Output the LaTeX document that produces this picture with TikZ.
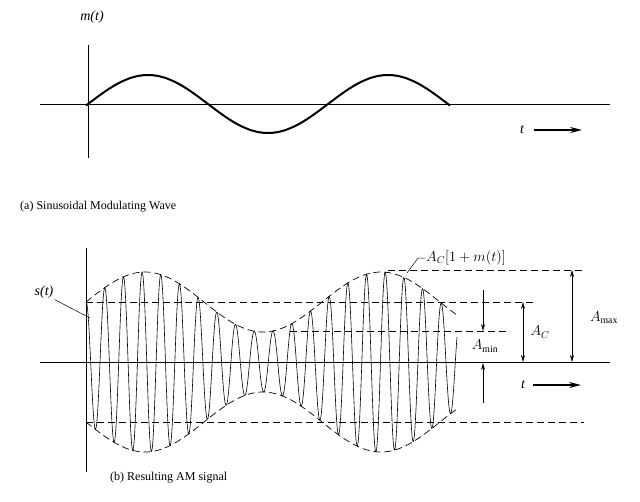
\documentclass[tikz,border=0pt]{standalone}
\usepackage{fontspec}
\setmainfont{Liberation Serif}
\usetikzlibrary{arrows.meta}
\begin{document}
\begin{tikzpicture}[x=1pt,y=-1pt,
  ax/.style={line width=0.8pt},
  dsh/.style={dashed,dash pattern=on 7pt off 4pt,line width=0.7pt},
  arr/.style={-{Stealth[length=7pt,width=4pt]},line width=0.5pt},
  darr/.style={{Stealth[length=7pt,width=4pt]}-{Stealth[length=7pt,width=4pt]},line width=0.5pt},
  bigarr/.style={-{Stealth[length=12pt,width=6pt]},line width=1.2pt},
  lbl/.style={font=\fontsize{14}{16}\selectfont\itshape,inner sep=1pt},
  captext/.style={font=\fontsize{12}{14}\selectfont,anchor=west,inner sep=0pt}]
\useasboundingbox (0,0) rectangle (640,501);
% top plot
\draw[ax] (40,104) -- (610,104);
\draw[ax] (88,45) -- (88,158);
\node[lbl] (mt) at (92,17) {m(t)};
\draw[line width=2pt,domain=86:450,samples=150,smooth] plot (\x,{104-29*sin(1.5*(\x-88))});
\node[lbl] (t1) at (522,130) {t};
\coordinate (t1a) at (534,130); \coordinate (t1b) at (582,130);
\draw[bigarr] (t1a) -- (t1b);
\node[captext] (capa) at (20,207) {(a) Sinusoidal Modulating Wave};
% bottom plot
\draw[ax] (40,362) -- (610,362);
\draw[ax] (86,248) -- (86,472);
\draw[dsh] (86,302) -- (533,302);
\draw[dsh] (290,331) -- (510,331);
\draw[dsh] (388,270) -- (584,270);
\draw[dsh] (86,422) -- (584,422);
% envelope
\draw[dsh,domain=86:457,samples=120,smooth] plot (\x,{302-30*sin(1.5254*(\x-86))});
\draw[dsh,domain=86:457,samples=120,smooth] plot (\x,{422+30*sin(1.5254*(\x-86))});
% carrier
\draw[line width=0.6pt,domain=86:457,samples=900] plot (\x,{362-(60+30*sin(1.5254*(\x-86)))*cos(19.2513*(\x-86))});
% arrows
\coordinate (m1) at (483,290); \coordinate (m2) at (483,331);
\coordinate (m3) at (483,403); \coordinate (m4) at (483,363);
\draw[arr] (m1) -- (m2);
\draw[arr] (m3) -- (m4);
\coordinate (c1) at (523,302); \coordinate (c2) at (523,362);
\draw[darr] (c1) -- (c2);
\coordinate (x1) at (572,270); \coordinate (x2) at (572,362);
\draw[darr] (x1) -- (x2);
\node[font=\fontsize{14}{16}\selectfont,inner sep=1pt] (amin) at (485,346) {$A_{\mathrm{min}}$};
\node[font=\fontsize{14}{16}\selectfont,inner sep=1pt] (ac) at (540,332) {$A_C$};
\node[font=\fontsize{14}{16}\selectfont,inner sep=1pt] (amax) at (604,318) {$A_{\mathrm{max}}$};
\node[font=\fontsize{14}{16}\selectfont,inner sep=1pt,anchor=west] (env) at (425,258) {$A_C[1+m(t)]$};
\coordinate (envp) at (407,273);
\draw[line width=0.5pt] (envp) -- (418,258) -- (env.west);
\node[lbl] (st) at (44,292) {s(t)};
\coordinate (stp) at (90,318);
\draw[line width=0.5pt] (st.south east) -- (stp);
\node[lbl] (t2) at (523,385) {t};
\coordinate (t2a) at (533,385); \coordinate (t2b) at (581,385);
\draw[bigarr] (t2a) -- (t2b);
\node[captext] (capb) at (110,478) {(b) Resulting AM signal};
\end{tikzpicture}
\end{document}
